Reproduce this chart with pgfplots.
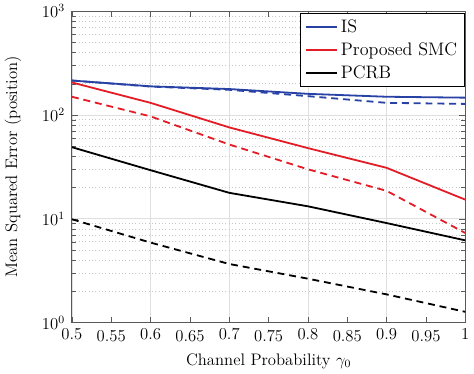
\documentclass[border=0pt]{standalone}
\usepackage{pgfplots}
\pgfplotsset{compat=1.18}
\definecolor{isblue}{RGB}{40,65,165}
\definecolor{smcred}{RGB}{228,28,38}
\begin{document}
\begin{tikzpicture}
\begin{axis}[
  scale only axis,
  width=283pt, height=224pt,
  xmin=0.5, xmax=1, ymin=1, ymax=1000,
  ymode=log,
  xtick={0.5,0.6,0.7,0.8,0.9,1.0},
  extra x ticks={0.55,0.65,0.75,0.85,0.95},
  extra x tick style={grid=none},
  xticklabel style={/pgf/number format/precision=2, yshift=-1pt},
  extra x tick style={xticklabel style={/pgf/number format/precision=2, yshift=-1pt}},
  yticklabel style={xshift=-1.5pt},
  ytick={1,10,100,1000},
  grid=both,
  major grid style={gray!25, line width=0.6pt},
  minor grid style={gray!45, dotted, line width=0.5pt},
  axis line style={gray!70!black, line width=0.7pt},
  tick style={gray!70!black},
  tick label style={font=\large},
  label style={font=\large},
  xlabel={Channel Probability $\gamma_0$},
  ylabel={Mean Squared Error (position)},
  xlabel style={yshift=-2pt},
  ylabel style={yshift=8pt},
  legend style={draw=black, line width=0.6pt, font=\fontsize{13}{14}\selectfont, row sep=2pt, inner xsep=3.5pt, inner ysep=2.5pt, legend cell align=left, at={(1,0.995)}, anchor=north east},
  legend image code/.code={\draw[#1] (0cm,0cm) -- (0.78cm,0cm);},
]
\addplot[isblue, line width=1.3pt] coordinates {(0.5,215) (0.6,189) (0.7,178) (0.8,160) (0.9,150) (1.0,147)};
\addlegendentry{IS}
\addplot[smcred, line width=1.3pt] coordinates {(0.5,206) (0.6,131) (0.7,76) (0.8,48) (0.9,31) (1.0,15.3)};
\addlegendentry{Proposed SMC}
\addplot[black, line width=1.3pt] coordinates {(0.5,49) (0.6,29.4) (0.7,17.8) (0.8,13.2) (0.9,9.1) (1.0,6.2)};
\addlegendentry{PCRB}
\addplot[isblue, line width=1.3pt, dash pattern=on 5pt off 3.5pt] coordinates {(0.5,215) (0.6,188) (0.7,175) (0.8,152) (0.9,131) (1.0,128)};
\addplot[smcred, line width=1.3pt, dash pattern=on 5pt off 3.5pt] coordinates {(0.5,150) (0.6,97) (0.7,52) (0.8,30) (0.9,18.6) (1.0,7.3)};
\addplot[black, line width=1.3pt, dash pattern=on 5pt off 3.5pt] coordinates {(0.5,9.9) (0.6,5.9) (0.7,3.67) (0.8,2.65) (0.9,1.87) (1.0,1.27)};
\end{axis}
\end{tikzpicture}
\end{document}
